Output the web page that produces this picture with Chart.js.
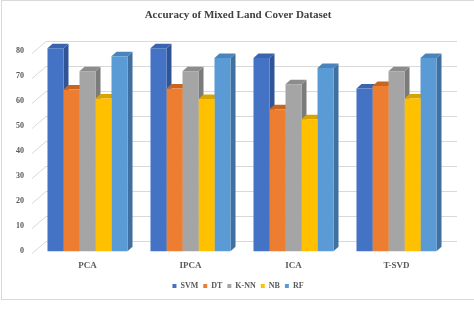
<!DOCTYPE html>
<html>
<head>
<meta charset="utf-8">
<script src="https://cdn.jsdelivr.net/npm/chart.js@4.4.1/dist/chart.umd.min.js"></script>
<style>
  html, body { margin: 0; padding: 0; background: #fff; }
  #frame {
    position: absolute; left: 1px; top: 0; width: 473px; height: 300px;
    box-sizing: border-box; border: 1px solid #d9d9d9; border-right: none;
  }
  #chart { display: block; }
</style>
</head>
<body>
<div id="frame"><canvas id="chart" width="472" height="298"></canvas></div>
<script>
const methods = ["PCA", "IPCA", "ICA", "T-SVD"];
const svm  = [81.2, 81.2, 77.3, 65.1];
const dt   = [64.7, 65.1, 56.8, 66.1];
const knn  = [72.0, 72.0, 66.8, 72.0];
const nb   = [61.1, 60.9, 52.8, 61.1];
const rf   = [78.0, 77.3, 73.3, 77.3];
const yTicks = [0, 10, 20, 30, 40, 50, 60, 70, 80];

const SERIF = "'Liberation Serif', 'Times New Roman', serif";

// front colour, side colour, top colour
const palette = {
  "SVM":  ["#4472C4", "#2F5597", "#3A64B0"],
  "DT":   ["#ED7D31", "#B85F22", "#C9651F"],
  "K-NN": ["#A5A5A5", "#7B7B7B", "#8C8C8C"],
  "NB":   ["#FFC000", "#C79600", "#D9A400"],
  "RF":   ["#5B9BD5", "#3F70A0", "#4A84BC"]
};

const series = [
  { label: "SVM", data: svm },
  { label: "DT", data: dt },
  { label: "K-NN", data: knn },
  { label: "NB", data: nb },
  { label: "RF", data: rf }
];

// fake 3D: back wall gridlines and bar side/top faces
const depth3d = {
  id: "depth3d",
  afterLayout(chart) {
    // pull the legend up a little
    chart.legend.top -= 3;
    chart.legend.bottom -= 3;
  },
  beforeDatasetsDraw(chart) {
    const { ctx, chartArea, scales } = chart;
    const y = scales.y;
    ctx.save();
    ctx.strokeStyle = "#d9d9d9";
    ctx.lineWidth = 1;
    yTicks.forEach(v => {
      const py = Math.round(y.getPixelForValue(v)) + 0.5;
      ctx.beginPath();
      ctx.moveTo(chartArea.left - 4, py + 2);
      ctx.lineTo(chartArea.left + 10, py - 10);
      ctx.lineTo(chartArea.right + 9, py - 10);
      ctx.stroke();
    });

    const dx = 5, dy = 4.5;
    for (let c = 0; c < methods.length; c++) {
      chart.data.datasets.forEach((ds, i) => {
        const meta = chart.getDatasetMeta(i);
        const bar = meta.data[c];
        if (!bar) return;
        const { x, y: top, base, width } = bar.getProps(["x", "y", "base", "width"], true);
        const l = x - width / 2, r = x + width / 2;
        const cols = palette[ds.label];
        // side
        ctx.fillStyle = cols[1];
        ctx.beginPath();
        ctx.moveTo(r, top);
        ctx.lineTo(r + dx, top - dy);
        ctx.lineTo(r + dx, base - dy);
        ctx.lineTo(r, base);
        ctx.closePath();
        ctx.fill();
        // top
        ctx.fillStyle = cols[2];
        ctx.beginPath();
        ctx.moveTo(l, top);
        ctx.lineTo(l + dx, top - dy);
        ctx.lineTo(r + dx, top - dy);
        ctx.lineTo(r, top);
        ctx.closePath();
        ctx.fill();
      });
    }
    ctx.restore();
  }
};

new Chart(document.getElementById("chart"), {
  type: "bar",
  data: {
    labels: methods,
    datasets: series.map(s => ({
      label: s.label,
      data: s.data,
      backgroundColor: palette[s.label][0],
      borderWidth: 0,
      clip: false
    }))
  },
  options: {
    responsive: false,
    animation: false,
    maintainAspectRatio: false,
    datasets: { bar: { barPercentage: 1, categoryPercentage: 0.777 } },
    layout: { padding: { left: 10, right: 10, top: 0, bottom: -4 } },
    scales: {
      x: {
        grid: { display: false, drawTicks: false },
        border: { display: false },
        ticks: { color: "#595959", padding: 9, font: { family: SERIF, size: 9, weight: "bold" } }
      },
      y: {
        min: 0, max: 80,
        afterBuildTicks: s => { s.ticks = yTicks.map(v => ({ value: v })); },
        afterFit: s => { s.width = 24; },
        grid: { display: false, drawTicks: false },
        border: { display: false },
        ticks: { color: "#595959", padding: 12, font: { family: SERIF, size: 8, weight: "bold" } }
      },
      // empty right axis, only keeps the plot centred under title and legend
      yRight: {
        type: "linear",
        position: "right",
        afterFit: s => { s.width = 16; },
        grid: { display: false, drawTicks: false },
        border: { display: false },
        ticks: { display: false }
      }
    },
    plugins: {
      title: {
        display: true,
        text: "Accuracy of Mixed Land Cover Dataset",
        color: "#404040",
        font: { family: SERIF, size: 11, weight: "bold" },
        padding: { top: 8, bottom: 29 }
      },
      legend: {
        position: "bottom",
        labels: {
          color: "#595959",
          boxWidth: 4, boxHeight: 4,
          padding: 5,
          font: { family: SERIF, size: 8, weight: "bold" }
        }
      },
      tooltip: { enabled: false }
    }
  },
  plugins: [depth3d]
});
</script>
</body>
</html>
